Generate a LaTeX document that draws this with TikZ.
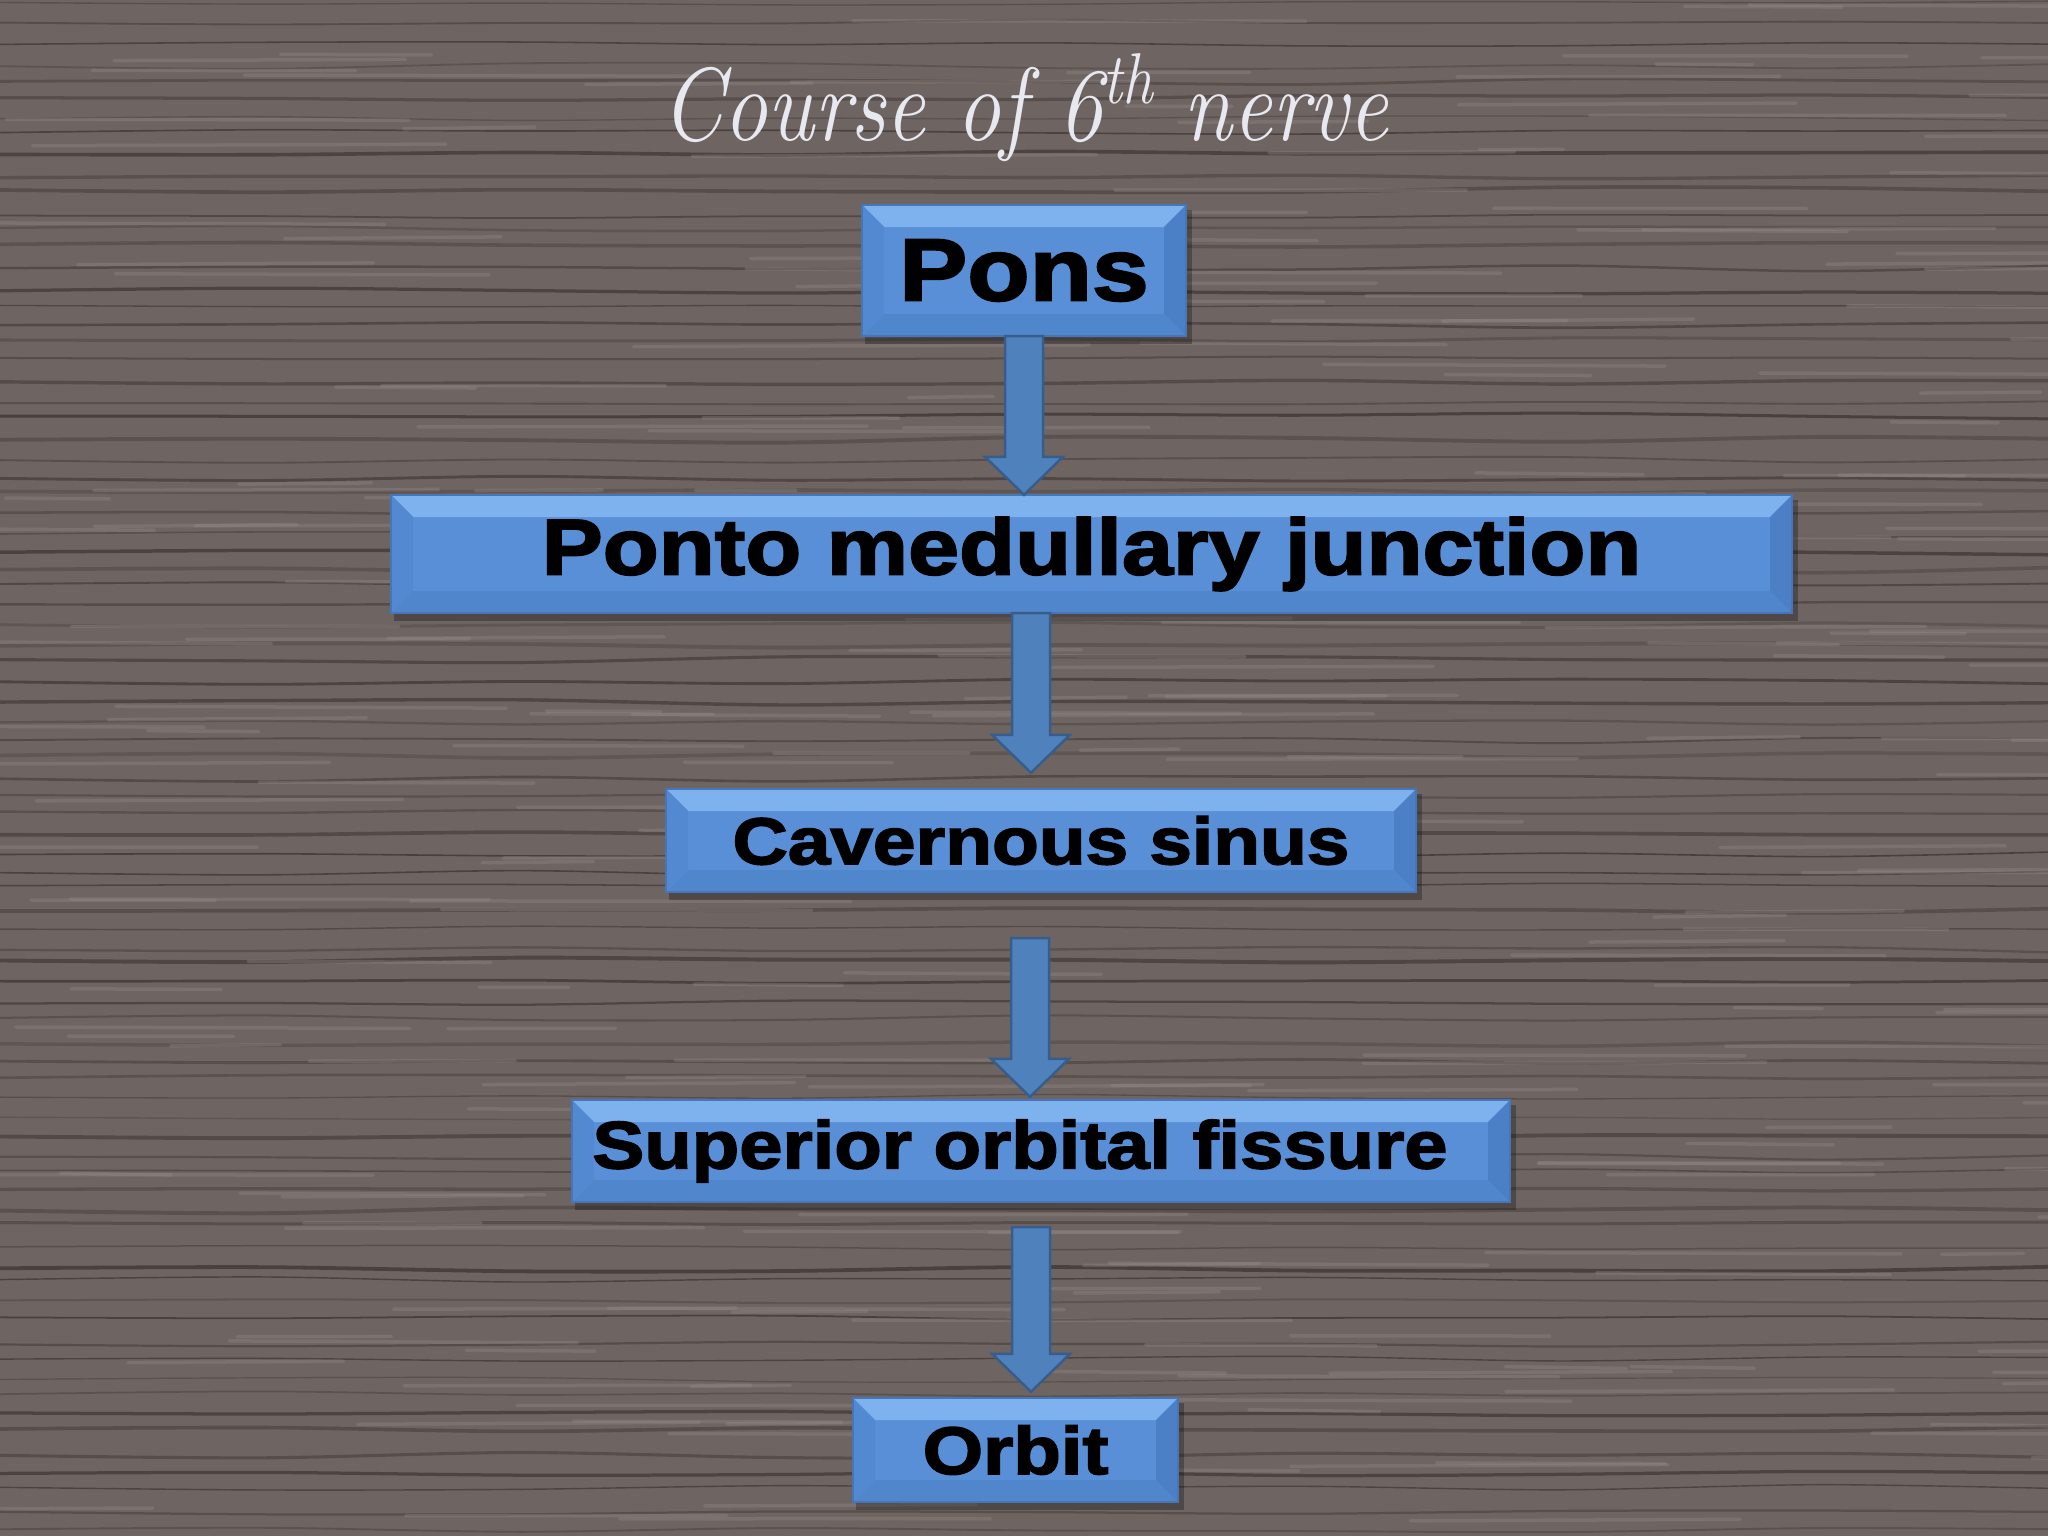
\documentclass[tikz,border=0pt]{standalone}
\usepackage{fontspec}
\newfontfamily\heavy{Liberation Sans}[BoldFeatures={FakeBold=2.5,FakeStretch=1.16}]
\usetikzlibrary{calc}
\definecolor{bgbase}{RGB}{110,101,98}
\definecolor{grainD}{RGB}{58,49,47}
\definecolor{grainL}{RGB}{152,144,142}
\definecolor{bvT}{RGB}{125,178,238}
\definecolor{bvF}{RGB}{88,143,214}
\definecolor{bvL}{RGB}{82,137,208}
\definecolor{bvR}{RGB}{76,128,198}
\definecolor{bvB}{RGB}{80,134,204}
\definecolor{bvEdge}{RGB}{70,118,184}
\definecolor{arrF}{RGB}{79,129,189}
\definecolor{arrE}{RGB}{56,93,138}
\definecolor{titleC}{RGB}{232,232,240}
\tikzset{
  boxtext/.style={inner sep=0pt, text=black, font=\heavy\bfseries},
  blockarr/.style={fill=arrF, draw=arrE, line width=2.5pt, line join=miter},
}
\newcommand\bv{22}
% #1 name, #2 x1, #3 y1, #4 x2, #5 y2, #6 font size, #7 text
\newcommand\bevbox[7]{%
  \fill[black,opacity=.28] ({#2+3},{#3+5}) rectangle ({#4+6},{#5+8});
  \fill[bvF] (#2,#3) rectangle (#4,#5);
  \fill[bvT] (#2,#3) -- (#4,#3) -- ({#4-\bv},{#3+\bv}) -- ({#2+\bv},{#3+\bv}) -- cycle;
  \fill[bvB] (#2,#5) -- (#4,#5) -- ({#4-\bv},{#5-\bv}) -- ({#2+\bv},{#5-\bv}) -- cycle;
  \fill[bvL] (#2,#3) -- ({#2+\bv},{#3+\bv}) -- ({#2+\bv},{#5-\bv}) -- (#2,#5) -- cycle;
  \fill[bvR] (#4,#3) -- ({#4-\bv},{#3+\bv}) -- ({#4-\bv},{#5-\bv}) -- (#4,#5) -- cycle;
  \draw[bvEdge,line width=1.5pt] (#2,#3) rectangle (#4,#5);
  \node[boxtext, minimum width={#4-#2}, minimum height={#5-#3}, font=\heavy\bfseries\fontsize{#6}{#6}\selectfont] (#1) at ({(#2+#4)/2},{(#3+#5)/2}) {#7};
}
% #1 from node, #2 to node, #3 column coordinate, #4 top gap, #5 tip gap
\newcommand\flowarrow[5]{%
  \coordinate (A) at ($(#1.south -| #3)+(0,#4)$);
  \coordinate (B) at ($(#2.north -| #3)+(0,-#5)$);
  \draw[blockarr] ($(A)+(-19,0)$) -- ($(B)+(-19,-38)$) -- ($(B)+(-39,-38)$) -- (B)
     -- ($(B)+(39,-38)$) -- ($(B)+(19,-38)$) -- ($(A)+(19,0)$) -- cycle;
}
\begin{document}
\begin{tikzpicture}[x=1pt,y=-1pt]
\useasboundingbox (0,0) rectangle (2048,1536);
\fill[bgbase] (0,0) rectangle (2048,1536);
\pgfmathsetseed{42}
\foreach \k in {0,...,82}{
  \pgfmathsetmacro\yy{\k*18.8+rnd*10}
  \pgfmathsetmacro\op{0.25+0.45*rnd}
  \pgfmathsetmacro\lw{1.2+2.8*rnd}
  \draw[grainD,opacity=\op,line width=\lw] plot[smooth] coordinates {(-10,\yy) (260,{\yy+3*rand}) (520,{\yy+3*rand}) (780,{\yy+3*rand}) (1040,{\yy+3*rand}) (1300,{\yy+3*rand}) (1560,{\yy+3*rand}) (1820,{\yy+3*rand}) (2060,{\yy+3*rand})};
}
\foreach \k in {1,...,260}{
  \pgfmathsetmacro\xx{rnd*2100-50}
  \pgfmathsetmacro\yy{rnd*1536}
  \pgfmathsetmacro\ll{80+rnd*380}
  \draw[grainL,opacity=0.32,line width=3.5,line cap=round] (\xx,\yy) -- ({\xx+\ll},{\yy+2*rand});
}

% title
\node[anchor=base, text=titleC, font=\itshape\fontsize{104}{110}\selectfont, inner sep=0pt] (title) at (1025,141)
  {\scalebox{0.85}[1]{Course of 6\raisebox{37pt}{\fontsize{72}{72}\selectfont th} nerve}};

% boxes
\bevbox{pons}{862}{205}{1186}{336}{88}{Pons}
\bevbox{pmj}{391}{495}{1792}{613}{79}{Ponto medullary junction}
\bevbox{cav}{666}{789}{1416}{892}{66}{Cavernous sinus}
\bevbox{sof}{572}{1100}{1510}{1202}{67}{\hspace*{-42pt}Superior orbital fissure}
\bevbox{orb}{853}{1398}{1178}{1502}{67}{Orbit}

% arrow columns
\coordinate (c1) at (1024,0);
\coordinate (c2) at (1031,0);
\coordinate (c3) at (1030,0);
\coordinate (c4) at (1031,0);
\flowarrow{pons}{pmj}{c1}{0}{0}
\flowarrow{pmj}{cav}{c2}{0}{16}
\flowarrow{cav}{sof}{c3}{46}{3}
\flowarrow{sof}{orb}{c4}{25}{6}
\end{tikzpicture}
\end{document}
